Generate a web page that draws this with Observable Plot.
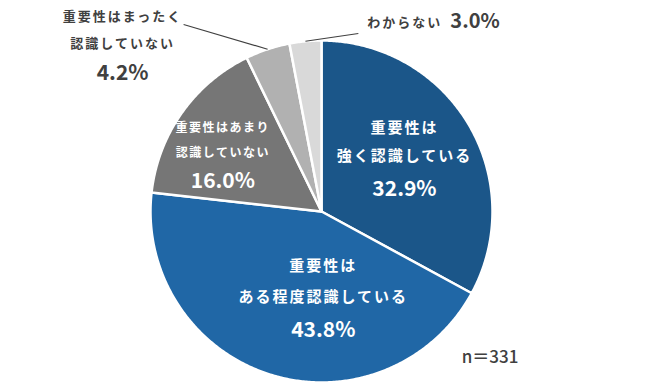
<!DOCTYPE html>
<html>
<head>
<meta charset="utf-8">
<script src="https://cdn.jsdelivr.net/npm/d3@7"></script>
<script src="https://cdn.jsdelivr.net/npm/@observablehq/plot@0.6"></script>
<style>
  html, body { margin: 0; padding: 0; background: #fff; }
  #chart svg { display: block; font-family: "Noto Sans CJK JP", "Noto Sans", sans-serif; }
</style>
</head>
<body>
<div id="chart"></div>
<script>
// ---- data ----
const categories = ["重要性は強く認識している", "重要性はある程度認識している", "重要性はあまり認識していない", "重要性はまったく認識していない", "わからない"];
const values = [32.9, 43.8, 16.0, 4.2, 3.0];
const labelLines = [["重要性は", "強く認識している"], ["重要性は", "ある程度認識している"], ["重要性はあまり", "認識していない"], ["重要性はまったく", "認識していない"], ["わからない"]];
const sampleNote = "n＝331";
const colors = ["#1b5689", "#2067a6", "#767676", "#b1b1b1", "#d9d9d9"];

// ---- geometry helpers ----
const W = 650, H = 386;
const mL = 150, mR = 158, mT = 40, mB = 4;
const RPX = (W - mL - mR) / 2; // pixels per data unit
const deg = Math.PI / 180;
const polar = (a, r) => ({x: r * Math.sin(a), y: r * Math.cos(a)});

const arcs = d3.pie().sort(null).value(d => d.value)(categories.map((c, i) => ({key: c, value: values[i], i})));

// slice polygons
const slicePts = [];
for (const a of arcs) {
  const n = Math.max(2, Math.ceil((a.endAngle - a.startAngle) / (0.5 * deg)));
  slicePts.push({key: a.data.key, x: 0, y: 0});
  for (let k = 0; k <= n; k++) {
    const t = a.startAngle + (a.endAngle - a.startAngle) * k / n;
    slicePts.push({key: a.data.key, ...polar(t, 1)});
  }
  slicePts.push({key: a.data.key, x: 0, y: 0});
}

// label layout (inside: radius factor + angle nudge; outside: leader end)
const inside = [
  {r: 0.582, nudge: -2.8, gaps: [-28, 0], pct: 33, small: false},
  {r: 0.503, nudge: -18.7, gaps: [-31, 0], pct: 33, small: false},
  {r: 0.671, nudge: -4.5, gaps: [-25, 0], pct: 28, small: true}
];
const outside = {
  3: {r: 1.359, ang: -36.4, lineDx: -61, lineDy: [-8, 19], pctDy: 49, pctDx: -61, anchor: "middle"},
  4: {r: 1.063, ang: 11.7, lineDx: 9, lineDy: [-11], pctDy: -12, pctDx: 92, anchor: "start"}
};

const rowsLarge = [], rowsSmall = [], rowsPctIn = [], rowsOutText = [], rowsOutPct = [], leaders = [];
const pct = v => v.toFixed(1) + "%";
arcs.forEach((a, i) => {
  const mid = (a.startAngle + a.endAngle) / 2;
  if (i < 3) {
    const L = inside[i];
    const p = polar(mid + L.nudge * deg, L.r);
    labelLines[i].forEach((t, j) => {
      (L.small ? rowsSmall : rowsLarge).push({x: p.x, y: p.y - L.gaps[j] / RPX, text: t});
    });
    rowsPctIn.push({x: p.x, y: p.y - L.pct / RPX, text: pct(values[i])});
  } else {
    const O = outside[i];
    const s = polar(mid, 1.0);
    const e = polar(O.ang * deg, O.r);
    leaders.push({x1: s.x, y1: s.y, x2: e.x, y2: e.y});
    labelLines[i].forEach((t, j) => {
      rowsOutText.push({x: e.x + O.lineDx / RPX, y: e.y - O.lineDy[j] / RPX, text: t, anchor: O.anchor});
    });
    rowsOutPct.push({x: e.x + O.pctDx / RPX, y: e.y - O.pctDy / RPX, text: pct(values[i]), anchor: O.anchor});
  }
});

const noteRow = [{x: polar(150 * deg, 1).x + 0.32, y: polar(150 * deg, 1).y + 0.01, text: sampleNote}];

const chart = Plot.plot({
  width: W, height: H,
  marginLeft: mL, marginRight: mR, marginTop: mT, marginBottom: mB,
  x: {domain: [-1, 1], axis: null},
  y: {domain: [-1, 1], axis: null},
  color: {domain: categories, range: colors},
  style: {background: "#fff", overflow: "visible"},
  marks: [
    Plot.line(slicePts, {x: "x", y: "y", z: "key", fill: "key", stroke: "#fff", strokeWidth: 2.5, strokeLinejoin: "round", curve: "linear"}),
    Plot.link(leaders, {x1: "x1", y1: "y1", x2: "x2", y2: "y2", stroke: "#404040", strokeWidth: 1.2}),
    Plot.text(rowsLarge, {x: "x", y: "y", text: "text", fill: "#fff", fontSize: 15, fontWeight: "bold"}),
    Plot.text(rowsSmall, {x: "x", y: "y", text: "text", fill: "#fff", fontSize: 12, fontWeight: "bold"}),
    Plot.text(rowsPctIn, {x: "x", y: "y", text: "text", fill: "#fff", fontSize: 21, fontWeight: "bold"}),
    Plot.text(rowsOutText.filter(d => d.anchor === "middle"), {x: "x", y: "y", text: "text", fill: "#404040", fontSize: 13, fontWeight: "bold", textAnchor: "middle"}),
    Plot.text(rowsOutText.filter(d => d.anchor === "start"), {x: "x", y: "y", text: "text", fill: "#404040", fontSize: 13, fontWeight: "bold", textAnchor: "start"}),
    Plot.text(rowsOutPct.filter(d => d.anchor === "middle"), {x: "x", y: "y", text: "text", fill: "#404040", fontSize: 21, fontWeight: "bold", textAnchor: "middle"}),
    Plot.text(rowsOutPct.filter(d => d.anchor === "start"), {x: "x", y: "y", text: "text", fill: "#404040", fontSize: 20, fontWeight: "bold", textAnchor: "start"}),
    Plot.text(noteRow, {x: "x", y: "y", text: "text", fill: "#404040", fontSize: 17, fontWeight: 500, textAnchor: "start"})
  ]
});

const spacing = {"15": "2px", "12": "1.5px", "13": "2px"};
for (const [fs, ls] of Object.entries(spacing)) {
  chart.querySelectorAll(`g[font-size="${fs}"]`).forEach(g => g.setAttribute("letter-spacing", ls));
}
document.getElementById("chart").appendChild(chart);
</script>
</body>
</html>
